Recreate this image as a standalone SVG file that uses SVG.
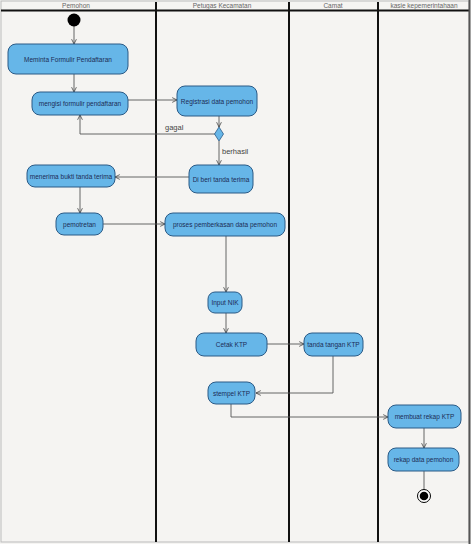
<svg xmlns="http://www.w3.org/2000/svg" width="471" height="544" viewBox="0 0 471 544">
<defs>
<style>
.bg{fill:#f5f4f2}
.lane{stroke:#111;stroke-width:2;fill:none}
.hdr{font-family:"Liberation Sans",Arial,sans-serif;font-size:6.5px;fill:#666;text-anchor:middle}
.node rect{fill:#66b6e8;stroke:#2b5a86;stroke-width:1}
.node text{font-family:"Liberation Sans",Arial,sans-serif;font-size:6.5px;fill:#1c2c55;text-anchor:middle;dominant-baseline:central}
.conn path{stroke:#555;stroke-width:0.9;fill:none}
.lbl{font-family:"Liberation Sans",Arial,sans-serif;font-size:7.5px;fill:#444}
</style>
<marker id="arr" viewBox="0 0 10 10" refX="9" refY="5" markerWidth="6" markerHeight="6" orient="auto" markerUnits="userSpaceOnUse">
<path d="M1,1 L9,5 L1,9" fill="none" stroke="#333" stroke-width="1.2"/>
</marker>
</defs>
<rect class="bg" x="0" y="0" width="471" height="544"/>
<g id="swimlanes">
<rect x="1" y="1" width="468" height="541" fill="none" stroke="#bbb" stroke-width="1"/>
<line class="lane" x1="1" y1="10.5" x2="469" y2="10.5"/>
<line class="lane" x1="156" y1="2" x2="156" y2="542"/>
<line class="lane" x1="289" y1="2" x2="289" y2="542"/>
<line class="lane" x1="378" y1="2" x2="378" y2="542"/>
<line x1="469.5" y1="0" x2="469.5" y2="544" stroke="#555" stroke-width="2"/>
<text class="hdr" x="76" y="8">Pemohon</text>
<text class="hdr" x="222" y="8">Petugas Kecamatan</text>
<text class="hdr" x="333" y="8">Camat</text>
<text class="hdr" x="424" y="8">kasie kepemerintahaan</text>
</g>
<g class="conn" id="connectors">
<path d="M74,26 V44" marker-end="url(#arr)"/>
<path d="M74,74 V92" marker-end="url(#arr)"/>
<path d="M128,100 H177" marker-end="url(#arr)"/>
<path d="M219,116 V127" marker-end="url(#arr)"/>
<path d="M215,134 H80 V115" marker-end="url(#arr)"/>
<path d="M219,141 V165" marker-end="url(#arr)"/>
<path d="M189,177 H115" marker-end="url(#arr)"/>
<path d="M80,187 V213" marker-end="url(#arr)"/>
<path d="M103,224 H165" marker-end="url(#arr)"/>
<path d="M226,236 V292" marker-end="url(#arr)"/>
<path d="M226,313 V333" marker-end="url(#arr)"/>
<path d="M267,344 H304" marker-end="url(#arr)"/>
<path d="M333,356 V393 H256" marker-end="url(#arr)"/>
<path d="M231,404 V417 H388" marker-end="url(#arr)"/>
<path d="M424,428 V448" marker-end="url(#arr)"/>
<path d="M424,471 V489"/>
<text class="lbl" x="165" y="130">gagal</text>
<text class="lbl" x="222" y="154">berhasil</text>
</g>
<g id="start"><circle cx="74" cy="20" r="6.5" fill="#000"/></g>
<g class="node" id="n1"><rect x="8" y="44" width="120" height="30" rx="8"/><text x="68" y="59">Meminta Formulir Pendaftaran</text></g>
<g class="node" id="n2"><rect x="32" y="92" width="96" height="23" rx="8"/><text x="80" y="103.5">mengisi formulir pendaftaran</text></g>
<g class="node" id="n3"><rect x="177" y="86" width="80" height="30" rx="8"/><text x="217" y="101">Registrasi data pemohon</text></g>
<g id="decision"><polygon points="219,127 223.5,134 219,141 214.5,134" fill="#66b6e8" stroke="#2b5a86" stroke-width="0.8"/></g>
<g class="node" id="n4"><rect x="189" y="165" width="64" height="28" rx="8"/><text x="221" y="179">Di beri tanda terima</text></g>
<g class="node" id="n5"><rect x="27" y="165" width="88" height="22" rx="8"/><text x="71" y="176">menerima bukti tanda terima</text></g>
<g class="node" id="n6"><rect x="56" y="213" width="47" height="22" rx="8"/><text x="79.5" y="224">pemotretan</text></g>
<g class="node" id="n7"><rect x="165" y="213" width="120" height="23" rx="8"/><text x="225" y="224.5">proses pemberkasan data pemohon</text></g>
<g class="node" id="n8"><rect x="208" y="292" width="34" height="21" rx="7"/><text x="225" y="302.5">Input NIK</text></g>
<g class="node" id="n9"><rect x="196" y="333" width="71" height="23" rx="8"/><text x="231.5" y="344.5">Cetak KTP</text></g>
<g class="node" id="n10"><rect x="304" y="333" width="59" height="23" rx="8"/><text x="333.5" y="344.5">tanda tangan KTP</text></g>
<g class="node" id="n11"><rect x="208" y="382" width="47" height="22" rx="8"/><text x="231.5" y="393">stempel KTP</text></g>
<g class="node" id="n12"><rect x="388" y="405" width="73" height="23" rx="8"/><text x="424.5" y="416.5">membuat rekap KTP</text></g>
<g class="node" id="n13"><rect x="388" y="448" width="71" height="23" rx="8"/><text x="423.5" y="459.5">rekap data pemohon</text></g>
<g id="end"><circle cx="424" cy="496" r="6.5" fill="#fff" stroke="#000" stroke-width="1"/><circle cx="424" cy="496" r="4.3" fill="#000"/></g>
</svg>
